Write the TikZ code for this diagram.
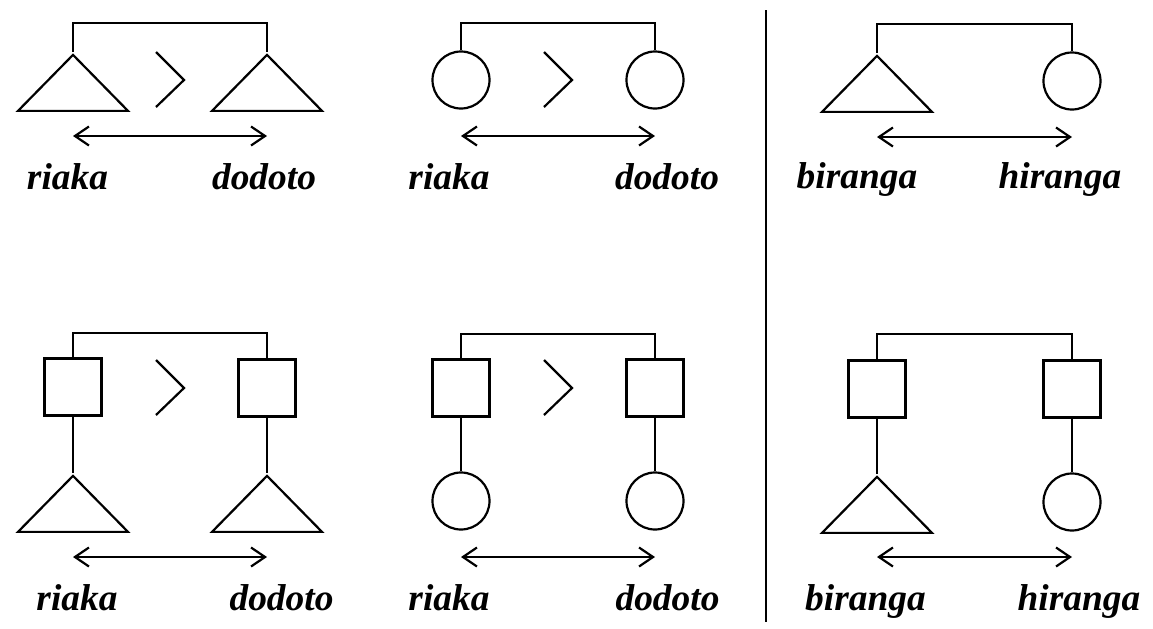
\documentclass[tikz,border=0pt]{standalone}
\usepackage{fontspec}
\setmainfont{Liberation Serif}
\usetikzlibrary{shapes.geometric}
\usetikzlibrary{arrows.meta}
\tikzset{
	malestyle/.style={isosceles triangle,isosceles triangle stretches,shape border rotate=90,draw=black,inner sep=0pt,minimum width=55pt,minimum height=28pt,anchor=apex},
	femalestyle/.style={circle,draw=black,inner sep=0pt,minimum size=28.5pt},
	personstyle/.style={rectangle,draw=black,inner sep=0pt,minimum size=28.5pt},
	wordstyle/.style={anchor=base,inner sep=0pt,font=\fontsize{18.7}{20}\selectfont\bfseries\itshape},
	kinarrow/.style={{Straight Barb[length=7pt,width=9.5pt]}-{Straight Barb[length=7pt,width=9.5pt]}}
}
\begin{document}
\begin{tikzpicture}[x=0.5pt,y=-0.5pt,line width=1.1pt]
		\useasboundingbox (0,0) rectangle (1153,628);
		% top row
		\node[malestyle] (a1) at (73,52) {};
		\node[malestyle] (a2) at (267,52) {};
		\node[femalestyle] (b1) at (461,80) {};
		\node[femalestyle] (b2) at (655,80) {};
		\node[malestyle] (c1) at (877,53) {};
		\node[femalestyle] (c2) at (1072,81) {};
		\coordinate (ta) at (170,23);
		\coordinate (tb) at (558,23);
		\coordinate (tc) at (975,24);
		\draw (a1.apex) |- (ta) -| (a2.apex);
		\draw (b1.north) |- (tb) -| (b2.north);
		\draw (c1.apex) |- (tc) -| (c2.north);
		\draw (156,52) -- (184,80) -- (156,107);
		\draw (544,52) -- (572,80) -- (544,107);
		\coordinate (pa) at (73,136);
		\coordinate (qa) at (267,136);
		\coordinate (pb) at (461,136);
		\coordinate (qb) at (655,136);
		\coordinate (pc) at (877,137);
		\coordinate (qc) at (1072,137);
		\draw[kinarrow] (pa) -- (qa);
		\draw[kinarrow] (pb) -- (qb);
		\draw[kinarrow] (pc) -- (qc);
		\node[wordstyle] (la1) at (67.5,189) {riaka};
		\node[wordstyle] (la2) at (264,189) {dodoto};
		\node[wordstyle] (lb1) at (449,189) {riaka};
		\node[wordstyle] (lb2) at (667,189) {dodoto};
		\node[wordstyle] (lc1) at (857,188) {biranga};
		\node[wordstyle] (lc2) at (1060,188) {hiranga};
		% bottom row
		\node[personstyle] (d1) at (73,387) {};
		\node[personstyle] (d2) at (267,388) {};
		\node[malestyle] (d3) at (73,473) {};
		\node[malestyle] (d4) at (267,473) {};
		\node[personstyle] (e1) at (461,388) {};
		\node[personstyle] (e2) at (655,388) {};
		\node[femalestyle] (e3) at (461,501) {};
		\node[femalestyle] (e4) at (655,501) {};
		\node[personstyle] (f1) at (877,389) {};
		\node[personstyle] (f2) at (1072,389) {};
		\node[malestyle] (f3) at (877,474) {};
		\node[femalestyle] (f4) at (1072,502) {};
		\coordinate (td) at (170,333);
		\coordinate (te) at (558,334);
		\coordinate (tf) at (975,334);
		\draw (d1.north) |- (td) -| (d2.north);
		\draw (e1.north) |- (te) -| (e2.north);
		\draw (f1.north) |- (tf) -| (f2.north);
		\draw (d1.south) -- (d3.apex);
		\draw (d2.south) -- (d4.apex);
		\draw (e1.south) -- (e3.north);
		\draw (e2.south) -- (e4.north);
		\draw (f1.south) -- (f3.apex);
		\draw (f2.south) -- (f4.north);
		\draw (156,360) -- (184,388) -- (156,415);
		\draw (544,360) -- (572,388) -- (544,415);
		\coordinate (pd) at (73,557);
		\coordinate (qd) at (267,557);
		\coordinate (pe) at (461,557);
		\coordinate (qe) at (655,557);
		\coordinate (pf) at (877,557);
		\coordinate (qf) at (1072,557);
		\draw[kinarrow] (pd) -- (qd);
		\draw[kinarrow] (pe) -- (qe);
		\draw[kinarrow] (pf) -- (qf);
		\node[wordstyle] (ld1) at (77,610) {riaka};
		\node[wordstyle] (ld2) at (281.5,610) {dodoto};
		\node[wordstyle] (le1) at (449,610) {riaka};
		\node[wordstyle] (le2) at (667.5,610) {dodoto};
		\node[wordstyle] (lf1) at (865.5,610) {biranga};
		\node[wordstyle] (lf2) at (1079,610) {hiranga};
		% divider
		\draw (766,10) -- (766,622);
\end{tikzpicture}
\end{document}
